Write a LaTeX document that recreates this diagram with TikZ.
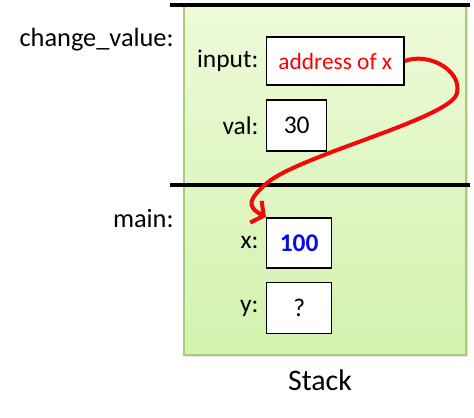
\documentclass[tikz,border=0pt]{standalone}
\usepackage{fontspec}
\setmainfont{Carlito}
\usetikzlibrary{positioning,shadows,arrows.meta}
\definecolor{framegreen}{HTML}{A6CC78}
\definecolor{topgreen}{HTML}{EEFAD9}
\definecolor{botgreen}{HTML}{D2F2AE}
\definecolor{ptrred}{HTML}{F00A0A}
\definecolor{valblue}{HTML}{0A0AE6}
\tikzset{
    cell/.style={draw=black, line width=0.9pt, fill=white, inner sep=0pt,
        font=\fontsize{14.5}{16}\selectfont},
    slotname/.style={inner sep=0pt, anchor=east, font=\fontsize{14.5}{16}\selectfont},
    framename/.style={inner sep=0pt, anchor=base east, font=\fontsize{15}{17}\selectfont},
    divider/.style={line width=2.7pt},
    ptr/.style={ptrred, line width=2.3pt, -{Straight Barb[length=5pt,width=14pt]}}
}

\begin{document}
\begin{tikzpicture}[x=0.02cm, y=-0.02cm]

\useasboundingbox (0,0) rectangle (474,417);

% ------------------------------------------------------------
% Stack area
% ------------------------------------------------------------

\shade[top color=topgreen, bottom color=botgreen, draw=framegreen, line width=0.8pt,
    drop shadow={shadow xshift=1.2pt, shadow yshift=-1.2pt, opacity=.25}]
    (184,5) rectangle (466,355);

% frame dividers
\coordinate (top L) at (170,5);
\coordinate (top R) at (470,5);
\coordinate (mid L) at (170,185);
\coordinate (mid R) at (470,185);
\draw[divider] (top L) -- (top R);
\draw[divider] (mid L) -- (mid R);

% frame names
\node[framename] (cvname) at (174,46) {change\_value:};
\node[framename] (mainname) at (174,227) {main:};

% ------------------------------------------------------------
% Variables
% ------------------------------------------------------------

\node[cell, minimum width=2.75cm, minimum height=0.97cm] (inbox) at (335.3,61)
    {\fontsize{13.3}{15}\selectfont\color{red}address of x};
\node[cell, minimum width=1.2cm, minimum height=1.02cm] (valbox) at (296.7,125.5) {30};
\node[cell, minimum width=1.3cm, minimum height=1.01cm] (xbox) at (299.2,243)
    {\textcolor{valblue}{\bfseries 100}};
\node[cell, minimum width=1.3cm, minimum height=1.02cm] (ybox) at (299.2,308) {?};

\node[slotname, left=4pt of inbox] (inname) {input:};
\node[slotname, left=4pt of valbox] (valname) {val:};
\node[slotname, left=4pt of xbox] (xname) {x:};
\node[slotname, left=4pt of ybox] (yname) {y:};

% pointer from input to x
\coordinate (bend1) at (457,93);
\coordinate (bend2) at (267,183);
\draw[ptr] (inbox.east) .. controls (428,52) and (462,70) .. (bend1)
    .. controls (452,118) and (300,155) .. (bend2)
    .. controls (250,198) and (245,206) .. (xbox.north west);

% caption
\node[anchor=base, inner sep=0pt, font=\fontsize{17}{19}\selectfont] (caption) at (320,390) {Stack};

\end{tikzpicture}
\end{document}
